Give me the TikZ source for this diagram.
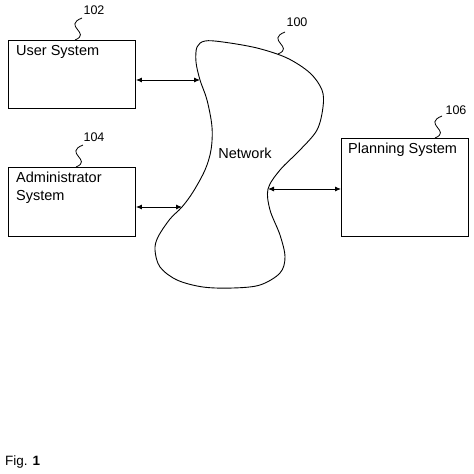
\documentclass[tikz,border=0pt]{standalone}
\usepackage{fontspec}
\setmainfont{Liberation Sans}
\usetikzlibrary{arrows.meta}
\tikzset{
  sysbox/.style={draw, line width=0.9pt, minimum width=127pt, anchor=north west, inner sep=0pt},
  boxtext/.style={anchor=north west, align=left, inner sep=0pt, font=\fontsize{14.5}{18}\selectfont},
  reftext/.style={inner sep=0pt, font=\fontsize{12.5}{14}\selectfont},
  link/.style={{Latex[length=6pt,width=5pt]}-{Latex[length=6pt,width=5pt]}, line width=0.9pt},
  leader/.style={line width=0.8pt},
  refmark/.pic={\draw[leader] (0,0) .. controls (17,-7) and (-13,-14) .. (7,-22);}
}
\begin{document}
\begin{tikzpicture}[x=1pt,y=-1pt]
    \useasboundingbox (0,0) rectangle (474,474);
    % network cloud
    \coordinate (netuser) at (200,80);
    \coordinate (netadmin) at (182,207);
    \coordinate (netplan) at (268,189);
    \draw[line width=0.9pt] plot[smooth cycle, tension=0.55] coordinates {
        (netuser) (196,62) (197,47) (205,41) (223,42) (257,48) (287,58)
        (310,73) (322,90) (323,107) (317,130) (300,150) (280,170) (netplan)
        (270,210) (280,235) (285,257) (280,273) (260,285) (233,288) (203,287)
        (177,280) (160,267) (155,250) (158,237) (170,219) (netadmin)
        (193,192) (205,170) (211,150) (212,127) (207,100)};
    \node[font=\fontsize{14.5}{18}\selectfont] (network) at (245,153) {Network};
    \node[reftext] (n100) at (297,22) {100};
    \pic at (278,54) {refmark};

    % user system
    \node[sysbox, minimum height=68pt] (user) at (8,40) {};
    \node[boxtext] (usertext) at (16,45) {User System};
    \node[reftext] (n102) at (94,10) {102};
    \pic at (75,40) {refmark};
    \draw[link] (netuser -| user.east) -- (netuser);

    % administrator system
    \node[sysbox, minimum height=69pt] (admin) at (8,167) {};
    \node[boxtext] (admintext) at (16,172) {Administrator\\System};
    \node[reftext] (n104) at (94,137) {104};
    \pic at (76,167) {refmark};
    \draw[link] (netadmin -| admin.east) -- (netadmin);

    % planning system
    \node[sysbox, minimum height=98pt] (plan) at (341,138) {};
    \node[boxtext] (plantext) at (348,143) {Planning System};
    \node[reftext] (n106) at (456,110) {106};
    \pic at (435,138) {refmark};
    \draw[link] (netplan) -- (netplan -| plan.west);

    \node[anchor=west, inner sep=0pt, font=\fontsize{13.5}{16}\selectfont] (fig) at (5,462) {Fig. \textbf{1}};
\end{tikzpicture}
\end{document}
